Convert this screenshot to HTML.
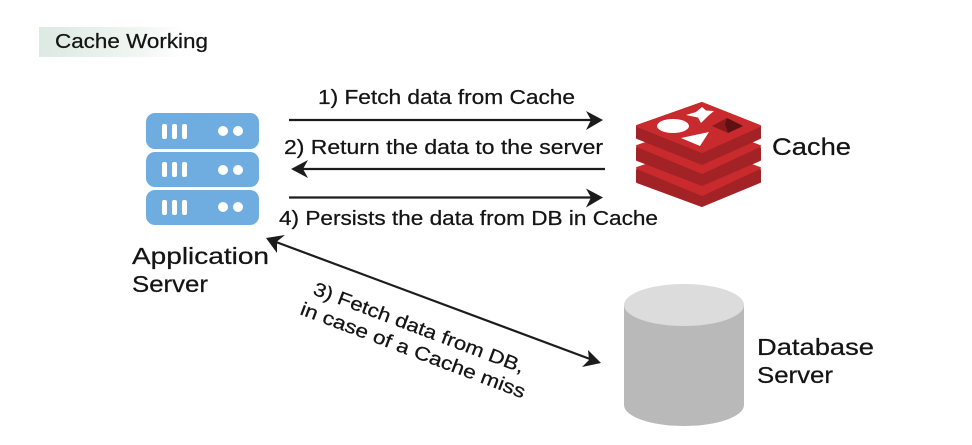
<!DOCTYPE html>
<html><head><meta charset="utf-8">
<style>html,body{margin:0;padding:0;background:#fff}svg{display:block}
text{font-family:"Liberation Sans",sans-serif;fill:#141414;stroke:#141414;stroke-width:.25}</style></head>
<body>
<svg width="972" height="445" viewBox="0 0 972 445" xmlns="http://www.w3.org/2000/svg">
<defs><linearGradient id="t" x1="0" x2="1" y1="0" y2="0"><stop offset="0" stop-color="#dde9e3"/><stop offset=".7" stop-color="#f1f6f3"/><stop offset="1" stop-color="#fff"/></linearGradient></defs>
<rect width="972" height="445" fill="#fff"/>
<rect x="39" y="27" width="145" height="30" fill="url(#t)"/>
<text x="55" y="48" font-size="20" textLength="153" lengthAdjust="spacingAndGlyphs">Cache Working</text>

<g fill="#6face0">
<rect x="146" y="113" width="113" height="36" rx="9"/>
<rect x="146" y="152" width="113" height="35" rx="9"/>
<rect x="146" y="190" width="113" height="35" rx="9"/>
</g>
<g fill="#fff">
<rect x="162" y="124" width="5" height="15" rx="2"/><rect x="172" y="124" width="5" height="15" rx="2"/><rect x="182" y="124" width="5" height="15" rx="2"/>
<circle cx="223" cy="131" r="5"/><circle cx="238" cy="131" r="5"/>
<rect x="162" y="162" width="5" height="15" rx="2"/><rect x="172" y="162" width="5" height="15" rx="2"/><rect x="182" y="162" width="5" height="15" rx="2"/>
<circle cx="223" cy="170" r="5"/><circle cx="238" cy="170" r="5"/>
<rect x="162" y="200" width="5" height="15" rx="2"/><rect x="172" y="200" width="5" height="15" rx="2"/><rect x="182" y="200" width="5" height="15" rx="2"/>
<circle cx="223" cy="207" r="5"/><circle cx="238" cy="207" r="5"/>
</g>

<g stroke="#1c1c1c" stroke-width="2.2" fill="none">
<line x1="289" y1="120" x2="596" y2="120"/>
<line x1="605" y1="169" x2="298" y2="169"/>
<line x1="289" y1="197.5" x2="596" y2="197.5"/>
<line x1="272" y1="240.5" x2="594" y2="360.5"/>
</g>
<g fill="#1c1c1c">
<path d="M586 111 L603 120 L586 130 L591 120Z"/>
<path d="M308 160 L291 169 L308 178 L303 169Z"/>
<path d="M586 188.5 L603 197.5 L586 207.5 L591 197.5Z"/>
<path d="M266 238 L285 235 L277 241.5 L277 253Z"/>
<path d="M601 363 L582 367 L589 360 L588 350Z"/>
</g>

<text x="318" y="104" font-size="20" textLength="257" lengthAdjust="spacingAndGlyphs">1) Fetch data from Cache</text>
<text x="284" y="154" font-size="20" textLength="319" lengthAdjust="spacingAndGlyphs">2) Return the data to the server</text>
<text x="279" y="225" font-size="20" textLength="379" lengthAdjust="spacingAndGlyphs">4) Persists the data from DB in Cache</text>
<text x="132" y="264" font-size="23" textLength="137" lengthAdjust="spacingAndGlyphs">Application</text>
<text x="132" y="292" font-size="23" textLength="76" lengthAdjust="spacingAndGlyphs">Server</text>
<text x="772" y="155" font-size="24" textLength="79" lengthAdjust="spacingAndGlyphs">Cache</text>
<text x="757" y="355" font-size="23" textLength="117" lengthAdjust="spacingAndGlyphs">Database</text>
<text x="757" y="383" font-size="23" textLength="76" lengthAdjust="spacingAndGlyphs">Server</text>
<text transform="translate(312 294) rotate(20.7)" font-size="19" textLength="224" lengthAdjust="spacingAndGlyphs">3) Fetch data from DB,</text>
<text transform="translate(299 314) rotate(20.7)" font-size="19" textLength="239" lengthAdjust="spacingAndGlyphs">in case of a Cache miss</text>

<!-- Redis stack -->
<g stroke-linejoin="round" stroke-width="2">
<path d="M637 170 L637 182 L702 206 L760 182 L760 170 L702 146Z" fill="#a32226" stroke="#a32226"/>
<path d="M637 168 L702 146 L760 168 L702 195Z" fill="#c92a2d" stroke="#c92a2d"/>
<path d="M637 148 L637 160 L702 185 L760 160 L760 148 L702 124Z" fill="#a32226" stroke="#a32226"/>
<path d="M637 146 L702 124 L760 146 L702 173Z" fill="#c92a2d" stroke="#c92a2d"/>
<path d="M637 126 L637 138 L702 164 L760 138 L760 126 L702 103Z" fill="#a32226" stroke="#a32226"/>
<path d="M637 126 L702 103 L760 126 L702 152Z" fill="#c92a2d" stroke="#c92a2d"/>
</g>
<ellipse cx="673" cy="126" rx="16" ry="7" fill="#fff"/>
<path d="M702 107 L706 110.5 L714 111 L708.5 115.5 L701 123 L698 117.5 L686 115 L696 112Z" fill="#fff"/>
<path d="M681 138 L709 132 L700 146Z" fill="#fff"/>
<path d="M712 126 L727 118 L743 126 L728 133Z" fill="#8c1a1c"/>
<path d="M727 118 L743 126 L728 133 L725 124Z" fill="#5d1112"/>

<!-- Cylinder -->
<path d="M624 305 L624 405 A60 21 0 0 0 744 405 L744 305Z" fill="#b9b9b9"/>
<ellipse cx="684" cy="305" rx="60" ry="21" fill="#dcdcdc"/>
</svg>
</body></html>
